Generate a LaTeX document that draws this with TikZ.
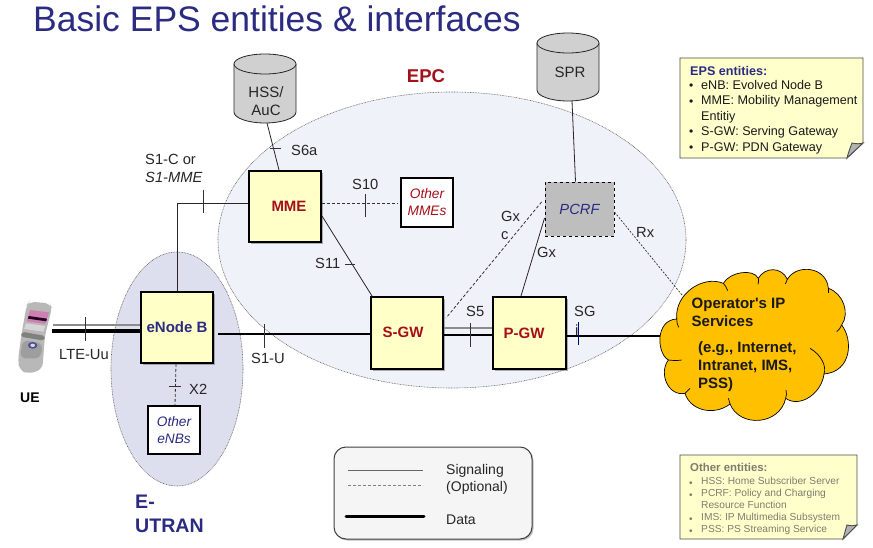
\documentclass[tikz,border=0pt]{standalone}
\usepackage{fontspec}
\setmainfont{Liberation Sans}
\newfontfamily\cloudf{Liberation Sans}
\usetikzlibrary{shadows,calc}
\definecolor{navy}{RGB}{43,43,130}
\definecolor{dkred}{RGB}{165,15,25}
\definecolor{boxyel}{RGB}{255,255,200}
\definecolor{notey}{RGB}{255,255,204}
\definecolor{epcfill}{RGB}{240,242,250}
\definecolor{eufill}{RGB}{222,223,238}
\definecolor{cloudc}{RGB}{255,192,0}
\definecolor{dbgray}{RGB}{208,208,208}
\definecolor{pcrfgray}{RGB}{190,190,190}
\definecolor{notegray}{RGB}{125,125,110}
\tikzset{
  x=1pt,y=-1pt,
  lbl/.style={inner sep=0pt,font=\fontsize{14.7}{17}\selectfont,text=black!85},
  entity/.style={draw=black,line width=2pt,fill=boxyel,inner sep=0pt,drop shadow={shadow xshift=2pt,shadow yshift=-2pt,fill=black!60,opacity=.5},font=\bfseries\fontsize{15}{17}\selectfont,text=dkred},
  other/.style={draw=black,line width=1.4pt,fill=white,inner sep=0pt,align=center,font=\itshape\fontsize{13.7}{17}\selectfont,drop shadow={shadow xshift=1pt,shadow yshift=-1pt,fill=black!40,opacity=.5}},
  sig/.style={line width=.8pt,draw=black!85},
  opt/.style={line width=.8pt,draw=black!80,dash pattern=on 3pt off 2pt},
  data/.style={line width=2.6pt,draw=black},
  thin gray/.style={line width=1.1pt,draw=black!45},
  tick/.style={line width=.7pt,draw=black!80},
  noteb/.style={draw=black!70,line width=.9pt,fill=notey},
  bubble/.style={line width=.6pt,draw=black!60,dash pattern=on .8pt off .8pt},
  cyl/.style={draw=black!85,line width=.8pt,fill=dbgray},
}
\begin{document}
\begin{tikzpicture}
\useasboundingbox (0,0) rectangle (873,548);
\fill[white] (0,0) rectangle (873,548);
% title
\node[anchor=base west,inner sep=0pt,text=navy,font=\fontsize{35.5}{38}\selectfont] (title) at (33,32) {Basic EPS entities \& interfaces};
% regions
\draw[bubble,fill=epcfill] (452,240) ellipse [x radius=234,y radius=148];
\draw[bubble,fill=eufill] (177,369) ellipse [x radius=66,y radius=117];
\node[anchor=base,inner sep=0pt,text=dkred,font=\bfseries\fontsize{18.5}{20}\selectfont] (epclbl) at (426,83) {EPC};
\node[anchor=base west,inner sep=0pt,text=navy,font=\bfseries\fontsize{19.6}{24}\selectfont] (eu1) at (135,508) {E-};
\node[anchor=base west,inner sep=0pt,text=navy,font=\bfseries\fontsize{19.6}{24}\selectfont] (eu2) at (135,532) {UTRAN};
% cylinders
\draw[cyl] (234,64) -- (234,112) arc[start angle=180,end angle=0,x radius=31,y radius=11] -- (296,64);
\draw[cyl] (265,64) ellipse [x radius=31,y radius=10];
\node[lbl,align=center,font=\fontsize{15}{18}\selectfont] (hss) at (266,101) {HSS/\\AuC};
\coordinate (hssb) at (267,123);
\draw[cyl] (537,43) -- (537,90) arc[start angle=180,end angle=0,x radius=31,y radius=11] -- (599,43);
\draw[cyl] (568,43) ellipse [x radius=31,y radius=10];
\node[lbl,font=\fontsize{15}{18}\selectfont] (spr) at (570,72) {SPR};
\coordinate (sprb) at (572,101);
% cloud
\begin{scope}[shift={(640,250)},xscale=1/3,yscale=1/3]
\draw[fill=cloudc,draw=black,line width=.7pt] (110,205)
  .. controls (105,130) and (190,75) .. (250,100)
  .. controls (270,65) and (340,55) .. (355,85)
  .. controls (375,50) and (425,50) .. (442,88)
  .. controls (470,40) and (560,50) .. (565,115)
  .. controls (610,130) and (630,190) .. (605,225)
  .. controls (640,270) and (635,365) .. (552,372)
  .. controls (545,430) and (480,475) .. (437,445)
  .. controls (420,525) and (300,535) .. (270,462)
  .. controls (220,500) and (150,480) .. (135,430)
  .. controls (85,440) and (55,370) .. (85,330)
  .. controls (50,310) and (45,210) .. (110,207) -- cycle;
\draw[black,line width=.7pt] (510,295) .. controls (545,315) and (560,350) .. (552,372);
\draw[black,line width=.7pt] (85,330) .. controls (100,332) and (115,332) .. (125,330);
\draw[black,line width=.7pt] (110,205) .. controls (110,215) and (112,225) .. (116,232);
\draw[black,line width=.7pt] (605,225) .. controls (602,232) and (597,240) .. (590,245);
\draw[black,line width=.7pt] (437,445) .. controls (440,438) and (440,428) .. (438,420);
\draw[black,line width=.7pt] (270,462) .. controls (268,455) and (267,450) .. (265,445);
\draw[black,line width=.7pt] (135,430) .. controls (140,425) and (145,420) .. (150,415);
\draw[black,line width=.7pt] (250,100) .. controls (256,105) and (260,115) .. (263,122);
\draw[black,line width=.7pt] (355,85) .. controls (356,92) and (356,97) .. (354,103);
\draw[black,line width=.7pt] (442,88) .. controls (440,93) and (438,98) .. (436,102);
\draw[black,line width=.7pt] (565,115) .. controls (566,120) and (566,125) .. (565,130);
\end{scope}
\coordinate (cloudw) at (660,336);
\coordinate (rxend) at (682,295);
\node[anchor=north west,inner sep=0pt,align=left,text=black!90,font=\cloudf\bfseries\fontsize{15}{18}\selectfont] (c1) at (691.5,298) {Operator's IP\\Services};
\node[anchor=north west,inner sep=0pt,align=left,text=black!90,font=\cloudf\bfseries\fontsize{15}{18}\selectfont] (c2) at (698,341) {(e.g., Internet,\\Intranet, IMS,\\PSS)};
% entity boxes
\node[entity,minimum width=72,minimum height=71] (enb) at (177,327.5) {\textcolor{navy}{eNode B}};
\node[entity,minimum width=72,minimum height=71] (mme) at (285,206.5) {\hspace*{8pt}MME};
\node[entity,minimum width=72,minimum height=72] (sgw) at (407,333) {\raisebox{2pt}{S-GW\hspace*{8pt}}};
\node[entity,minimum width=73,minimum height=72] (pgw) at (529.5,333) {P-GW\hspace*{11pt}};
\node[other,minimum width=52,minimum height=48,text=navy] (oenb) at (174,430) {Other\\eNBs};
\node[other,minimum width=52,minimum height=49,text=dkred] (omme) at (427,202.5) {Other\\MMEs};
\node[draw=black,dashed,line width=.9pt,fill=pcrfgray,minimum width=69,minimum height=54,inner sep=0pt,text=navy,font=\itshape\fontsize{14.7}{16}\selectfont] (pcrf) at (579.5,209) {\raisebox{-3pt}{PCRF}};
% connectors
\draw[data,line width=4.2pt] (52,331) -- (enb.west |- 52,331);
\coordinate (uetop) at (53,325);
\draw[thin gray] (uetop) -- (enb.west |- uetop);
\draw[tick] (85.5,317) -- (85.5,341);
\draw[data] ([yshift=-6.5pt,xshift=4pt]enb.east) -- ([yshift=-1pt]sgw.west);
\draw[tick] (264,324) -- (264,348);
\draw[thin gray] ([yshift=5pt]sgw.east) -- ([yshift=5pt]pgw.west);
\draw[data] ([yshift=-2pt]sgw.east) -- ([yshift=-2pt]pgw.west);
\draw[tick] (470,323) -- (470,347);
\draw[data] ([yshift=-3pt]pgw.east) -- (cloudw);
\draw[tick,draw=black!50!blue] (578,322) -- (578,345);
\draw[sig] ([yshift=3.5pt]mme.west) -| (enb.north);
\draw[tick] (203,190) -- (203,213);
\draw[sig] (hssb) -- ([xshift=-6pt]mme.north);
\draw[tick] (270,148) -- (281,148);
\draw[opt] ([yshift=3.5pt]mme.east) -- ([xshift=-2pt,yshift=-.5pt]omme.west);
\draw[tick] (365,194) -- (365,217);
\draw[sig] ([yshift=-9.5pt]mme.east) -- ([xshift=-35pt]sgw.north);
\draw[tick] (345,264) -- (355,264);
\draw[opt] ([yshift=7pt,xshift=-3pt]pcrf.west) -- ([yshift=15pt,xshift=2pt]sgw.east);
\draw[sig] ([yshift=-9pt]pcrf.west) -- ([xshift=-8.5pt]pgw.north);
\draw[line width=.7pt,draw=black!80,dash pattern=on 2pt off 1.5pt] ([yshift=-3pt]pcrf.east) -- (rxend);
\draw[sig] (sprb) -- ([xshift=-4pt]pcrf.north);
\draw[opt] ([xshift=-1pt]enb.south) -- ([xshift=1pt]oenb.north);
\draw[tick] (169,386) -- (181,386);
% labels
\node[lbl,anchor=base west,align=left] (s1c) at (145,165) {S1-C or};
\node[lbl,anchor=base west,font=\itshape\fontsize{14.7}{17}\selectfont] (s1m) at (145,183) {S1-MME};
\node[lbl,anchor=base west] (s6a) at (291,156) {S6a};
\node[lbl,anchor=base west] (s10) at (352,190) {S10};
\node[lbl,anchor=base west] (s11) at (315,269) {S11};
\node[lbl,anchor=base west] (gx1) at (501,222) {Gx};
\node[lbl,anchor=base west] (gx1c) at (501,240) {c};
\node[lbl,anchor=base west] (gx2) at (537,258) {Gx};
\node[lbl,anchor=base west] (rx) at (636,237) {Rx};
\node[lbl,anchor=base west] (s5) at (466,316) {S5};
\node[lbl,anchor=base west] (sg) at (574,316) {SG};
\node[lbl,anchor=base west] (sgi) at (575,335) {i};
\node[lbl,anchor=base west] (lte) at (59,359) {LTE-Uu};
\node[lbl,anchor=base west] (s1u) at (251,363) {S1-U};
\node[lbl,anchor=base west] (x2) at (189,394) {X2};
\node[lbl,anchor=base west,font=\bfseries\fontsize{14}{16}\selectfont,text=black] (ue) at (20,402) {UE};
% phone
\begin{scope}[shift={(0,280)},xscale=1/3,yscale=1/3]
\fill[black!28,rounded corners=6pt] (88,65) -- (150,70) -- (156,85) -- (135,165) -- (127,268) -- (85,282) -- (58,270) -- (54,240) -- (65,160) -- (80,75) -- cycle;
\fill[black!50,rounded corners=3pt] (66,155) -- (136,168) -- (132,182) -- (62,170) -- cycle;
\fill[black!38,rounded corners=6pt] (68,180) -- (128,190) -- (122,235) -- (60,235) -- cycle;
\fill[blue!40!black!70] (98,196) ellipse [x radius=14,y radius=10];
\fill[white!85!black] (98,196) ellipse [x radius=7,y radius=5];
\fill[violet!45!pink!85!white] (90,90) -- (147,97) -- (136,132) -- (80,124) -- cycle;
\fill[black!70!violet] (86,108) -- (141,116) -- (139,124) -- (84,116) -- cycle;
\fill[black!16] (78,130) -- (136,138) -- (130,155) -- (72,147) -- cycle;
\end{scope}
% notes
\draw[noteb] (680,58) -- (863,58) -- (863,143) -- (847,158) -- (680,158) -- cycle;
\draw[draw=black!70,line width=.9pt,fill=black!30] (847,158) .. controls (849,150) and (851,146) .. (852,143) .. controls (856,144) and (860,144) .. (863,143) -- cycle;
\node[anchor=north west,inner sep=0pt,text=navy,font=\bfseries\fontsize{12.6}{15}\selectfont] (n0) at (690,66.5) {EPS entities:};
\node[anchor=north west,inner sep=0pt,align=left,text=black!90,font=\fontsize{12.6}{15.5}\selectfont] (n1) at (701,80) {eNB: Evolved Node B\\MME: Mobility Management\\Entitiy\\S-GW: Serving Gateway\\P-GW: PDN Gateway};
\node[anchor=base west,inner sep=0pt,font=\fontsize{12}{15}\selectfont,text=black!90] (d1) at (689,90) {•};
\node[anchor=base west,inner sep=0pt,font=\fontsize{12}{15}\selectfont,text=black!90] (d2) at (689,105.5) {•};
\node[anchor=base west,inner sep=0pt,font=\fontsize{12}{15}\selectfont,text=black!90] (d3) at (689,136) {•};
\node[anchor=base west,inner sep=0pt,font=\fontsize{12}{15}\selectfont,text=black!90] (d4) at (689,151.5) {•};
\draw[noteb] (680,455) -- (857,455) -- (857,525) -- (843,539) -- (680,539) -- cycle;
\draw[draw=black!70,line width=.9pt,fill=black!30] (843,539) .. controls (845,532) and (846,528) .. (847,525) .. controls (851,526) and (854,526) .. (857,525) -- cycle;
\node[anchor=north west,inner sep=0pt,text=notegray,font=\bfseries\fontsize{11.4}{13}\selectfont] (m0) at (690,463) {Other entities:};
\node[anchor=north west,inner sep=0pt,align=left,text=notegray,font=\fontsize{10.2}{12}\selectfont] (m1) at (701,477) {HSS: Home Subscriber Server\\PCRF: Policy and Charging\\Resource Function\\IMS: IP Multimedia Subsystem\\PSS: PS Streaming Service};
\node[anchor=base west,inner sep=0pt,font=\fontsize{10}{12}\selectfont,text=notegray] (e1) at (689,486) {•};
\node[anchor=base west,inner sep=0pt,font=\fontsize{10}{12}\selectfont,text=notegray] (e2) at (689,498) {•};
\node[anchor=base west,inner sep=0pt,font=\fontsize{10}{12}\selectfont,text=notegray] (e3) at (689,522) {•};
\node[anchor=base west,inner sep=0pt,font=\fontsize{10}{12}\selectfont,text=notegray] (e4) at (689,534) {•};
% legend
\node[draw=black!75,line width=1pt,fill=black!4,rounded corners=12pt,minimum width=198,minimum height=92,drop shadow={shadow xshift=1.5pt,shadow yshift=-1.5pt,fill=black!50,opacity=.5}] (legend) at (433,493) {};
\coordinate (la) at (348,470); \coordinate (lb) at (423,470);
\coordinate (lc) at (348,485); \coordinate (ld) at (423,485);
\coordinate (le) at (346,516); \coordinate (lf) at (424,516);
\draw[line width=.8pt,draw=black!60] (la) -- (lb);
\draw[line width=.8pt,draw=black!50,dash pattern=on 3pt off 2pt] (lc) -- (ld);
\draw[line width=3pt,draw=black,line cap=round] (le) -- (lf);
\node[lbl,anchor=base west,font=\fontsize{14}{16}\selectfont] (l1) at (446,474) {Signaling};
\node[lbl,anchor=base west,font=\fontsize{14}{16}\selectfont] (l2) at (446,491) {(Optional)};
\node[lbl,anchor=base west,font=\fontsize{14}{16}\selectfont] (l3) at (446,524) {Data};
\end{tikzpicture}
\end{document}
